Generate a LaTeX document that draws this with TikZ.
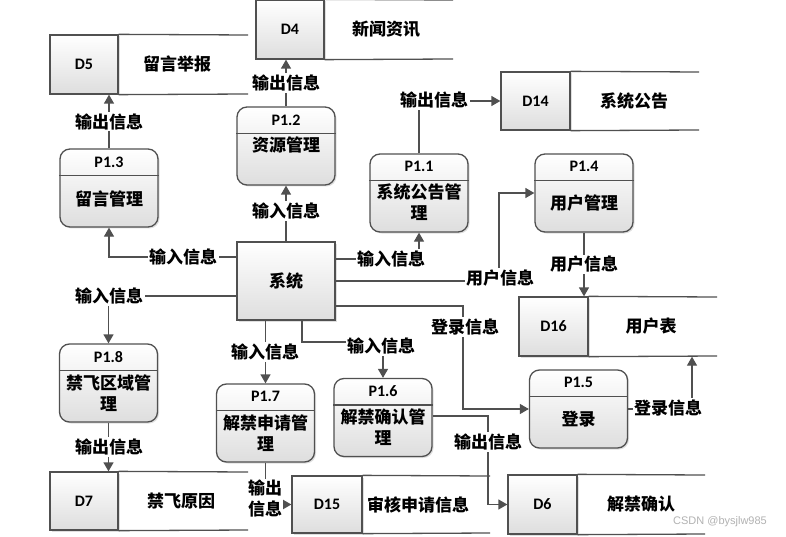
\documentclass[tikz,border=0pt]{standalone}
\usepackage{fontspec}
\setmainfont{Carlito}
\newfontfamily\cjk{Noto Sans CJK SC}
\newfontfamily\wmfont{Liberation Sans}
\usetikzlibrary{arrows.meta,shadows,fit}
\definecolor{lc}{HTML}{505050}
\tikzset{
 base/.style={draw=lc, line width=1.3pt, top color=white, bottom color=black!13,
   drop shadow={shadow xshift=1.5pt,shadow yshift=-1.5pt,opacity=0.25}},
 proc/.style={base, rounded corners=10pt, minimum width=98pt, minimum height=78pt, inner sep=0pt},
 sysbox/.style={base, minimum width=98pt, minimum height=78pt, inner sep=0pt,
   font=\cjk\bfseries\fontsize{17}{21}\selectfont},
 sid/.style={base, inner sep=0pt},
 sidtext/.style={font=\bfseries\fontsize{16}{19}\selectfont, inner sep=0pt},
 sline/.style={draw=lc, line width=1.3pt},
 divl/.style={draw=lc, line width=1.3pt},
 pid/.style={font=\bfseries\fontsize{16}{19}\selectfont, inner sep=0pt},
 ctext/.style={font=\cjk\bfseries\fontsize{17}{21}\selectfont, align=center, inner sep=0pt},
 lbl/.style={ctext, fill=white, inner sep=1.5pt},
 flow/.style={draw=lc, line width=1.3pt, -{Triangle[length=9pt,width=10pt]}},
}
% #1 name, #2 cx, #3 cy, #4 id, #5 body, #6 body centre offset below top
\newcommand\procnode[6]{%
 \node[proc] (#1) at (#2,#3) {};
 \draw[divl] ([yshift=-27pt]#1.north west) -- ([yshift=-27pt]#1.north east);
 \node[pid] (#1id) at ([yshift=-13.5pt]#1.north) {#4};
 \node[ctext] (#1tx) at ([yshift=-#6pt]#1.north) {#5};
}
% #1 name, #2 x1, #3 y1, #4 xdiv, #5 y2, #6 xend, #7 id, #8 text, #9 text x
\newcommand\storenode[9]{%
 \node[sid, fit={(#2,#3) (#4,#5)}] (#1) {};
 \node[sidtext] (#1id) at (#1.center) {#7};
 \draw[sline] (#1.north east) -- (#6,#3);
 \draw[sline] (#1.south east) -- (#6,#5);
 \node[ctext] (#1tx) at (#9,{(#3+#5)/2}) {#8};
}
\begin{document}
\begin{tikzpicture}[x=1pt,y=-1pt]
\useasboundingbox (0,0) rectangle (786,537);
\fill[white] (0,0) rectangle (786,537);

% data stores
\storenode{d4}{256}{0}{324}{59}{453}{D4}{新闻资讯}{386}
\storenode{d5}{50}{35}{118}{94}{248}{D5}{留言举报}{177}
\storenode{d14}{501}{72}{570}{130}{699}{D14}{系统公告}{634}
\storenode{d16}{519}{297}{588}{356}{717}{D16}{用户表}{651}
\storenode{d7}{50}{472}{118}{530}{248}{D7}{禁飞原因}{181}
\storenode{d15}{292}{476}{362}{533}{490}{D15}{审核申请信息}{418}
\storenode{d6}{508}{475}{577}{534}{705}{D6}{解禁确认}{641}

% processes
\procnode{p12}{286}{146}{P1.2}{资源管理}{39}
\procnode{p13}{109}{188}{P1.3}{留言管理}{51}
\procnode{p11}{419}{193}{P1.1}{系统公告管\\理}{49}
\procnode{p14}{584}{193}{P1.4}{用户管理}{50}
\procnode{p18}{108.5}{383}{P1.8}{禁飞区域管\\理}{50}
\procnode{p17}{265.5}{423}{P1.7}{解禁申请管\\理}{50}
\procnode{p16}{383}{417.5}{P1.6}{解禁确认管\\理}{49}
\procnode{p15}{578.5}{409}{P1.5}{登录}{50}

\node[sysbox] (sys) at (286,281) {系统};

% connectors
\draw[flow] (p13.north) -- (p13.north |- d5.south);
\draw[flow] (p12.north) -- (p12.north |- d4.south);
\draw[flow] (sys.north) -- (p12.south);
\draw[flow] (sys.west |- 0,257) -- (p13.south |- 0,257) -- (p13.south);
\draw[flow] (sys.west |- 0,296) -- (p18.north |- 0,296) -- (p18.north);
\draw[flow] (p18.south) -- (p18.south |- d7.north);
\draw[flow] (p17.north |- sys.south) -- (p17.north);
\draw[flow] (sys.south -| 302,0) -- (302,342) -- (p16.north |- 0,342) -- (p16.north);
\draw[flow] (p17.south) -- (p17.south |- d15.west) -- (d15.west);
\draw[flow] (p16.east |- 0,416) -- (488,416) -- (488,0 |- d6.west) -- (d6.west);
\draw[flow] (sys.east |- 0,259) -- (p11.south |- 0,259) -- (p11.south);
\draw[flow] (p11.north) -- (p11.north |- d14.west) -- (d14.west);
\draw[flow] (sys.east |- 0,281) -- (499,281) -- (499,0 |- p14.west) -- (p14.west);
\draw[flow] (p14.south) -- (p14.south |- d16.north);
\draw[flow] (sys.east |- 0,306) -- (463,306) -- (463,0 |- p15.west) -- (p15.west);
\draw[flow] (p15.east) -- (692,0 |- p15.east) -- (d16.south -| 692,0);

% labels
\node[lbl] (l1) at (109,121.5) {输出信息};
\node[lbl] (l2) at (286,83) {输出信息};
\node[lbl] (l3) at (286,211) {输入信息};
\node[lbl] (l4) at (183,257) {输入信息};
\node[lbl] (l5) at (109,296) {输入信息};
\node[lbl] (l6) at (109,447) {输出信息};
\node[lbl] (l7) at (265,352) {输入信息};
\node[lbl] (l8) at (381,346) {输入信息};
\node[lbl, inner sep=0.5pt] (l9) at (265,498) {输出\\信息};
\node[lbl] (l10) at (488,442) {输出信息};
\node[lbl] (l11) at (391,259) {输入信息};
\node[lbl] (l12) at (434,100) {输出信息};
\node[lbl] (l13) at (500,278) {用户信息};
\node[lbl] (l14) at (584,264.5) {用户信息};
\node[lbl] (l15) at (465,327) {登录信息};
\node[lbl] (l16) at (668,408) {登录信息};

\node[font=\wmfont\fontsize{11}{13}\selectfont, text=black!30] (wm) at (720,522) {CSDN @bysjlw985};
\end{tikzpicture}
\end{document}
